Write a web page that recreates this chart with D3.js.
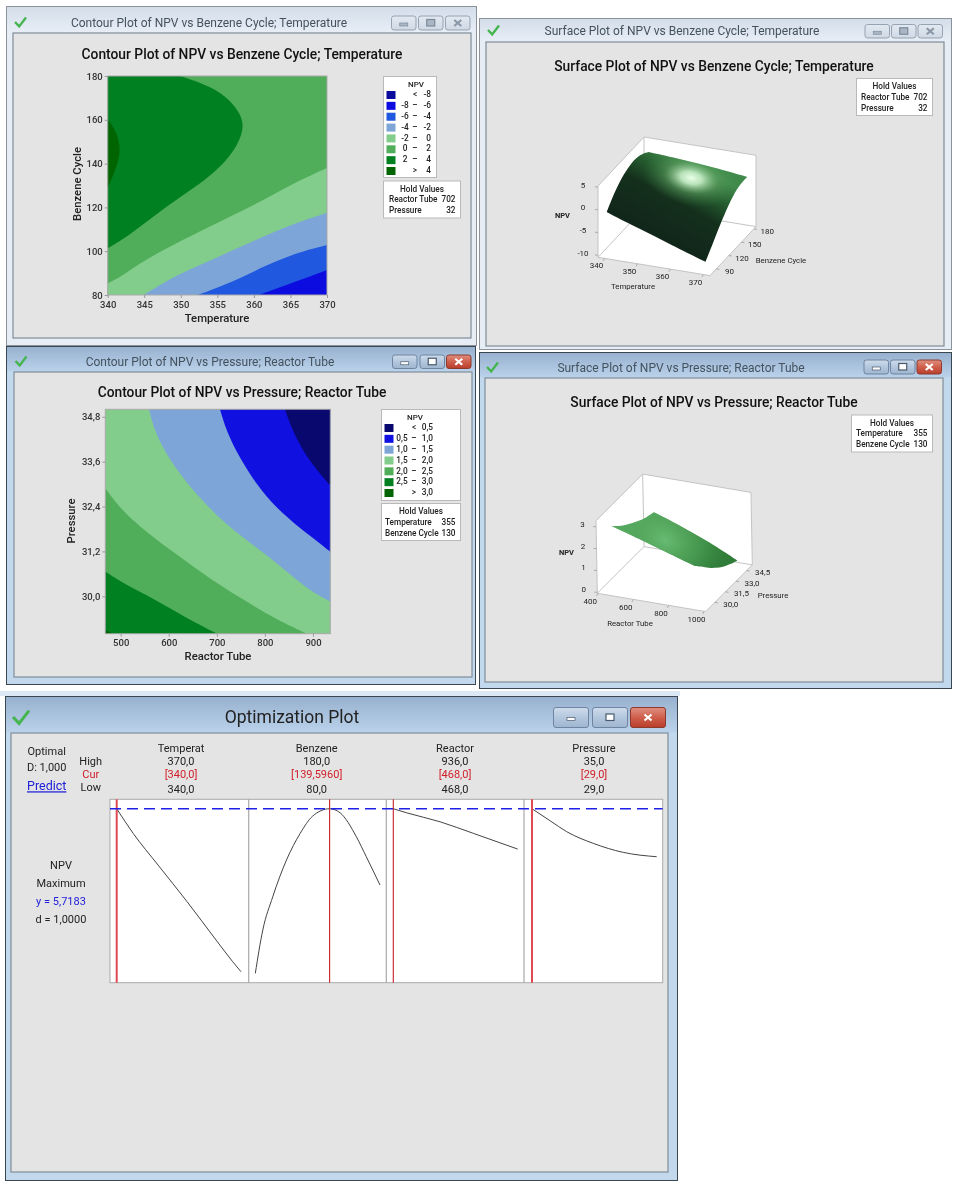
<!DOCTYPE html>
<html>
<head>
<meta charset="utf-8">
<title>NPV plots</title>
<script src="https://cdn.jsdelivr.net/npm/d3@7"></script>
<style>
  body { margin: 0; background: #fff; }
  svg { display: block; filter: blur(0.3px); }
  text { font-family: Roboto, "Noto Sans", sans-serif; fill: #222; }
</style>
</head>
<body>
<svg id="chart" width="956" height="1183"></svg>
<script>
// contour 1: band limits as [Temperature, Benzene Cycle]
let temperatureTicks = [340, 345, 350, 355, 360, 365, 370];
let benzeneTicks = [80, 100, 120, 140, 160, 180];
let limitAbove4 = [[340, 160], [341, 156], [341.9, 147], [341.2, 138], [340, 129]];
let limit2 = [[349.9, 180], [352.6, 177], [355.6, 172.5], [357.5, 166], [358.7, 159], [358.2, 151.5], [356.9, 144], [354.5, 135.5], [351.7, 128.7], [349, 122.6], [346.2, 115.8], [343, 107.4], [340, 101.3]];
let limit0 = [[370, 138], [366.3, 132.5], [361.7, 124], [357.2, 116.5], [352.6, 109], [348, 101.3], [344.4, 94.5], [342.1, 89], [340, 85.3]];
let limitMinus2 = [[370, 117.6], [366.3, 113.5], [361.7, 107.4], [357.2, 100.5], [352.6, 93.7], [349, 88.4], [344.9, 80]];
let limitMinus4 = [[370, 102.8], [366.3, 99.8], [361.7, 93.7], [357.2, 86], [352.3, 80]];
let limitMinus6 = [[370, 91.4], [366.3, 86.8], [363.1, 83], [360.6, 80]];

// contour 2: band limits as [Reactor Tube, Pressure]
let reactorTicks = [500, 600, 700, 800, 900];
let pressureTicks = [30, 31.2, 32.4, 33.6, 34.8];
let limitAbove3 = [[468, 29.1], [484.6, 29]];
let limit25 = [[468, 30.66], [505, 30.35], [554, 30.03], [602.5, 29.68], [651, 29.32], [701, 29]];
let limit20 = [[468, 32.89], [498.5, 32.35], [540, 31.86], [588.6, 31.37], [637, 30.93], [699.6, 30.35], [762, 29.86], [824.4, 29.37], [887, 29]];
let limit15 = [[558.8, 35], [571, 34.4], [595.6, 33.78], [630, 33.15], [671.8, 32.53], [720.4, 31.9], [775.8, 31.37], [838, 30.75], [886.8, 30.2], [936, 29.86]];
let limit10 = [[706.5, 35], [720.4, 34.4], [748, 33.69], [782.8, 32.98], [824.4, 32.35], [873, 31.82], [914.5, 31.42], [936, 31.19]];
let limit05 = [[841.7, 35], [855.5, 34.49], [879.7, 33.87], [907.6, 33.38], [936, 32.96]];

// legends
let legend1Low = ["", "-8", "-6", "-4", "-2", "0", "2", ""];
let legend1High = ["-8", "-6", "-4", "-2", "0", "2", "4", "4"];
let legend2Low = ["", "0,5", "1,0", "1,5", "2,0", "2,5", ""];
let legend2High = ["0,5", "1,0", "1,5", "2,0", "2,5", "3,0", "3,0"];
let legend1Colors = ["#0a0a9c", "#0c0ce0", "#2058e0", "#7da5d8", "#82cc8c", "#50ae5a", "#008020", "#006400"];
let legend2Colors = ["#08086e", "#1010e0", "#7da5d8", "#82cc8c", "#50ae5a", "#008020", "#006400"];

// surface 1: NPV, one row per temperature, one value per benzene cycle
let surface1Temperature = [340, 350, 360, 370];
let surface1Benzene = [80, 100, 120, 140, 160, 180];
let surface1Npv = [
  [-0.8, 1.9, 3.5, 4.3, 4.1, 2.6],
  [-3.3, -0.3, 1.9, 3.1, 3.1, 2.2],
  [-5.8, -2.8, -0.3, 1.3, 2.0, 1.6],
  [-8.2, -5.5, -2.8, -0.5, 0.8, 0.7]
];

// surface 2: NPV, one row per reactor tube, one value per pressure
let surface2Reactor = [468, 624, 780, 936];
let surface2Pressure = [29, 30, 31, 32, 33, 34, 35];
let surface2Npv = [
  [3.04, 2.7, 2.42, 2.2, 1.98, 1.82, 1.72],
  [2.67, 2.36, 2.08, 1.82, 1.6, 1.42, 1.28],
  [2.25, 1.95, 1.65, 1.38, 1.12, 0.92, 0.78],
  [1.85, 1.5, 1.1, 0.78, 0.5, 0.3, 0.15]
];

// optimization plot curves
let optNames = ["Temperat", "Benzene", "Reactor", "Pressure"];
let optHigh = ["370,0", "180,0", "936,0", "35,0"];
let optCur = ["[340,0]", "[139,5960]", "[468,0]", "[29,0]"];
let optLow = ["340,0", "80,0", "468,0", "29,0"];
let optCurValues = [340, 139.596, 468, 29];
let optBestNpv = 5.7183;
let optTemperature = [340, 344, 350, 357, 364, 368, 370];
let optTemperatureNpv = [5.72, 4.07, 1.96, -0.48, -3.04, -4.48, -5.15];
let optBenzene = [80, 86, 94, 105, 116, 126, 139.6, 148, 161, 169, 180];
let optBenzeneNpv = [-5.26, -2.37, -0.15, 2.3, 4.08, 5.23, 5.72, 5.45, 3.86, 2.52, 0.63];
let optReactor = [468, 518, 644, 769, 936];
let optReactorNpv = [5.72, 5.45, 4.85, 4.08, 3.03];
let optPressure = [29, 29.87, 30.67, 31.95, 33.39, 35];
let optPressureNpv = [5.72, 4.92, 4.19, 3.41, 2.81, 2.52];

let svg = d3.select("#chart");
let defs = svg.append("defs");

function addGradient(id, x1, y1, x2, y2, stops) {
  let g = defs.append("linearGradient").attr("id", id)
    .attr("x1", x1).attr("y1", y1).attr("x2", x2).attr("y2", y2);
  stops.forEach(s => g.append("stop").attr("offset", s[0]).attr("stop-color", s[1]));
  return g;
}
addGradient("barOff", 0, 0, 0, 1, [[0, "#d3dde9"], [1, "#e8eef6"]]);
addGradient("barOn", 0, 0, 0, 1, [[0, "#98b1cf"], [1, "#bad2ea"]]);
addGradient("btnOff", 0, 0, 0, 1, [[0, "#e3e9f1"], [1, "#cfd9e5"]]);
addGradient("btnOn", 0, 0, 0, 1, [[0, "#cfdcec"], [0.5, "#b3c7dd"], [1, "#9fb6d0"]]);
addGradient("btnClose", 0, 0, 0, 1, [[0, "#e08f80"], [0.5, "#cf5f4c"], [1, "#b93d2b"]]);

function text(g, x, y, s, size, anchor, weight, color) {
  return g.append("text").attr("x", x).attr("y", y).attr("dominant-baseline", "middle")
    .attr("text-anchor", anchor || "middle").attr("font-size", size)
    .attr("font-weight", weight || 400).style("fill", color || "#222").text(s);
}

// window frame with title bar and three buttons
function drawWindow(w) {
  let g = svg.append("g");
  g.append("rect").attr("x", w.x).attr("y", w.y).attr("width", w.w).attr("height", w.h)
    .attr("fill", w.active ? "#c2d8ec" : "#e6edf5")
    .attr("stroke", w.active ? "#3a4650" : "#8b929a").attr("stroke-width", 1);
  g.append("rect").attr("x", w.x + 0.5).attr("y", w.y + 0.5).attr("width", w.w - 1).attr("height", w.cy - w.y - 1)
    .attr("fill", w.active ? "url(#barOn)" : "url(#barOff)");
  g.append("rect").attr("x", w.cx).attr("y", w.cy).attr("width", w.cw).attr("height", w.ch)
    .attr("fill", "#e4e4e4").attr("stroke", "#7f8c99").attr("stroke-width", 1.2);
  text(g, w.tx, w.ty + 0.8, w.title, w.ts, "middle", 400, w.big ? "#222" : "#44525e");
  g.append("path").attr("d", `M${w.chk[0]},${w.chk[1]}l${w.chk[2] * 0.38},${w.chk[2] * 0.4}l${w.chk[2] * 0.62},${-w.chk[2] * 0.8}`)
    .attr("fill", "none").attr("stroke", "#46b550").attr("stroke-width", w.big ? 3 : 2.4);
  w.btn.forEach((b, i) => {
    let close = i == 2 && w.active;
    g.append("rect").attr("x", b).attr("y", w.by).attr("width", w.bw).attr("height", w.bh).attr("rx", 2.5)
      .attr("fill", close ? "url(#btnClose)" : (w.active ? "url(#btnOn)" : "url(#btnOff)"))
      .attr("stroke", close ? "#8c3a2c" : (w.active ? "#6e84a0" : "#96a3b3"));
    let cx = b + w.bw / 2, cy = w.by + w.bh / 2;
    let ink = close ? "#fff" : (w.active ? "#fff" : "#aab6c4");
    let edge = w.active ? "#4a5a6c" : "#7d8a99";
    if (i == 0) g.append("rect").attr("x", cx - 4).attr("y", cy).attr("width", 8).attr("height", 3).attr("fill", ink).attr("stroke", edge).attr("stroke-width", 0.7);
    if (i == 1) g.append("rect").attr("x", cx - 4).attr("y", cy - 3.5).attr("width", 8).attr("height", 6.5).attr("fill", ink).attr("stroke", edge).attr("stroke-width", 1.2);
    if (i == 2) g.append("path").attr("d", `M${cx - 3.5},${cy - 3}L${cx + 3.5},${cy + 3}M${cx + 3.5},${cy - 3}L${cx - 3.5},${cy + 3}`)
      .attr("stroke", close ? "#fff" : "#8a97a6").attr("stroke-width", 2.2);
  });
}

drawWindow({ x: 6.5, y: 6.5, w: 470, h: 339, cx: 13, cy: 33, cw: 458, ch: 305, active: false, title: "Contour Plot of NPV vs Benzene Cycle; Temperature", tx: 209, ty: 23, ts: 12, chk: [15, 22, 11], btn: [391.5, 418.5, 445.5], by: 16, bw: 24.5, bh: 14 });
drawWindow({ x: 479.5, y: 18.5, w: 472, h: 331, cx: 486, cy: 42, cw: 458, ch: 304, active: false, title: "Surface Plot of NPV vs Benzene Cycle; Temperature", tx: 682, ty: 31, ts: 12, chk: [488, 30, 11], btn: [865, 891.5, 918], by: 24.5, bw: 24.5, bh: 13.5 });
drawWindow({ x: 6.5, y: 346.5, w: 469, h: 338, cx: 14, cy: 372, cw: 458, ch: 305, active: true, title: "Contour Plot of NPV vs Pressure; Reactor Tube", tx: 210, ty: 362, ts: 12, chk: [15.5, 361, 11], btn: [392.5, 420, 446.5], by: 355, bw: 24.5, bh: 13.5 });
drawWindow({ x: 479.5, y: 352.5, w: 472, h: 336, cx: 485, cy: 378, cw: 458, ch: 304, active: true, title: "Surface Plot of NPV vs Pressure; Reactor Tube", tx: 681, ty: 368, ts: 12, chk: [487, 367, 11], btn: [864, 890.5, 917], by: 360, bw: 24.5, bh: 14 });
svg.append("rect").attr("x", 0).attr("y", 691).attr("width", 680).attr("height", 5).attr("fill", "#dce8f3");
drawWindow({ x: 5.5, y: 696.5, w: 672, h: 484, cx: 11, cy: 733, cw: 657, ch: 439, active: true, big: true, title: "Optimization Plot", tx: 292, ty: 718, ts: 17.5, chk: [13, 717, 16], btn: [553.5, 592.5, 630.5], by: 707.5, bw: 35, bh: 20 });

function holdBox(b) {
  let g = svg.append("g");
  g.append("rect").attr("x", b.x).attr("y", b.y).attr("width", b.w).attr("height", b.h)
    .attr("fill", "#fff").attr("stroke", "#b9b9b9").attr("stroke-width", 1);
  text(g, b.x + b.w / 2, b.y + 8.5, "Hold Values", b.size, "middle", 500);
  b.rows.forEach((r, i) => {
    text(g, b.x + b.pad, b.y + 19 + i * 11, r[0], b.size, "start", 500);
    text(g, b.x + b.w - 5, b.y + 19 + i * 11, r[1], b.size, "end", 500);
  });
}

function legendBox(b) {
  let g = svg.append("g");
  g.append("rect").attr("x", b.x).attr("y", b.y).attr("width", b.w).attr("height", b.h)
    .attr("fill", "#fff").attr("stroke", "#b9b9b9").attr("stroke-width", 1);
  text(g, b.nx, b.y + 8, "NPV", 8, "middle", 500);
  let rows = d3.scaleLinear().domain([0, b.colors.length - 1]).range([b.y0, b.y1]);
  b.colors.forEach((c, i) => {
    let y = rows(i);
    g.append("rect").attr("x", b.x + 3).attr("y", y - 4).attr("width", 9).attr("height", 8).attr("fill", c);
    text(g, b.xr, y, b.high[i], 8.3, "end", 500);
    if (b.low[i] != "") {
      text(g, b.xl, y, b.low[i], 8.3, "middle", 500);
      text(g, b.xd, y, "–", 8.3, "middle", 500);
    } else {
      text(g, b.xd, y, i == 0 ? "<" : ">", 8.3, "middle", 500);
    }
  });
}

// filled contour panel
function contourPanel(p) {
  let g = svg.append("g");
  let x = d3.scaleLinear().domain(p.xDomain).range([p.left, p.right]);
  let y = d3.scaleLinear().domain(p.yDomain).range([p.bottom, p.top]);
  let curve = d3.line().x(d => x(d[0])).y(d => y(d[1])).curve(d3.curveBasis);
  g.append("rect").attr("x", p.left).attr("y", p.top).attr("width", p.right - p.left).attr("height", p.bottom - p.top).attr("fill", p.base);
  p.bands.forEach(b => {
    let corners = b.corners.map(c => `L${x(c[0])},${y(c[1])}`).join("");
    g.append("path").attr("d", curve(b.limit) + corners + "Z").attr("fill", b.color);
  });
  g.append("rect").attr("x", p.left).attr("y", p.top).attr("width", p.right - p.left).attr("height", p.bottom - p.top)
    .attr("fill", "none").attr("stroke", "#a9a9a9").attr("stroke-width", 1);
  let xAxis = g.append("g").attr("transform", `translate(0,${p.bottom})`)
    .call(d3.axisBottom(x).tickValues(p.xTicks).tickSize(3).tickPadding(3).tickFormat(p.fmtX));
  let yAxis = g.append("g").attr("transform", `translate(${p.left},0)`)
    .call(d3.axisLeft(y).tickValues(p.yTicks).tickSize(3).tickPadding(2).tickFormat(p.fmtY));
  [xAxis, yAxis].forEach(a => {
    a.select(".domain").remove();
    a.selectAll("line").attr("stroke", "#999");
    a.selectAll("text").attr("font-size", 9.5).attr("font-weight", 500).style("font-family", "Roboto").style("fill", "#333");
  });
  text(g, p.titleX, p.titleY + 1, p.title, 13.8, "middle", 500, "#111");
  text(g, p.xlabelX, p.xlabelY, p.xlabel, 11.3, "middle", 500);
  text(g, 0, 0, p.ylabel, 11.3, "middle", 500)
    .attr("transform", `translate(${p.ylabelX},${p.ylabelY}) rotate(-90)`);
}

let comma1 = v => d3.format(".1f")(v).replace(".", ",");

contourPanel({
  xDomain: [340, 370], yDomain: [80, 180], left: 107.7, right: 327, top: 76, bottom: 295,
  base: "#50ae5a", xTicks: temperatureTicks, yTicks: benzeneTicks, fmtX: d3.format("d"), fmtY: d3.format("d"),
  title: "Contour Plot of NPV vs Benzene Cycle; Temperature", titleX: 242, titleY: 54,
  xlabel: "Temperature", xlabelX: 217, xlabelY: 319, ylabel: "Benzene Cycle", ylabelX: 78, ylabelY: 184,
  bands: [
    { limit: limit2, corners: [[340, 180]], color: "#008020" },
    { limit: limitAbove4, corners: [], color: "#006400" },
    { limit: limit0, corners: [[340, 80], [370, 80]], color: "#82cc8c" },
    { limit: limitMinus2, corners: [[370, 80]], color: "#7da5d8" },
    { limit: limitMinus4, corners: [[370, 80]], color: "#2058e0" },
    { limit: limitMinus6, corners: [[370, 80]], color: "#0c0ce0" }
  ]
});
legendBox({ x: 383.5, y: 76.5, w: 53, h: 101, nx: 416, y0: 95, y1: 171, xl: 405, xd: 415, xr: 431, colors: legend1Colors, low: legend1Low, high: legend1High });
holdBox({ x: 383.5, y: 181, w: 77, h: 37, size: 8.2, pad: 5.5, rows: [["Reactor Tube", "702"], ["Pressure", "32"]] });

contourPanel({
  xDomain: [468, 936], yDomain: [29, 35], left: 105.3, right: 330.3, top: 409.3, bottom: 633.7,
  base: "#82cc8c", xTicks: reactorTicks, yTicks: pressureTicks, fmtX: d3.format("d"), fmtY: comma1,
  title: "Contour Plot of NPV vs Pressure; Reactor Tube", titleX: 242, titleY: 392,
  xlabel: "Reactor Tube", xlabelX: 218, xlabelY: 657, ylabel: "Pressure", ylabelX: 72, ylabelY: 521,
  bands: [
    { limit: limit20, corners: [[468, 29]], color: "#50ae5a" },
    { limit: limit25, corners: [[468, 29]], color: "#008020" },
    { limit: limitAbove3, corners: [[468, 29]], color: "#006400" },
    { limit: limit15, corners: [[936, 35]], color: "#7da5d8" },
    { limit: limit10, corners: [[936, 35]], color: "#1010e0" },
    { limit: limit05, corners: [[936, 35]], color: "#08086e" }
  ]
});
legendBox({ x: 381.5, y: 409.5, w: 79, h: 91, nx: 415, y0: 428, y1: 493, xl: 402, xd: 414, xr: 433, colors: legend2Colors, low: legend2Low, high: legend2High });
holdBox({ x: 381.5, y: 503.5, w: 79, h: 37, size: 8.2, pad: 3.5, rows: [["Temperature", "355"], ["Benzene Cycle", "130"]] });

// 3D box: a point maps through three scales onto the three box edges
function surfacePanel(p) {
  let g = svg.append("g");
  let u = d3.scaleLinear().domain(p.xDomain).range([0, 1]);
  let v = d3.scaleLinear().domain(p.yDomain).range([0, 1]);
  let w = d3.scaleLinear().domain(p.zDomain).range([0, 1]);
  let project = (a, b, c) => [
    p.origin[0] + u(a) * p.ex[0] + v(b) * p.ey[0] + w(c) * p.ez[0],
    p.origin[1] + u(a) * p.ex[1] + v(b) * p.ey[1] + w(c) * p.ez[1]
  ];
  let [x0, x1] = p.xDomain, [y0, y1] = p.yDomain, [z0, z1] = p.zDomain;
  let poly = pts => "M" + pts.map(q => q.join(",")).join("L");
  g.append("path")
    .attr("d", poly([project(x0, y0, z0), project(x1, y0, z0), project(x1, y1, z0), project(x1, y1, z1), project(x0, y1, z1), project(x0, y0, z1)]) + "Z")
    .attr("fill", "#fff");
  let edges = [
    [project(x0, y0, z0), project(x1, y0, z0)], [project(x1, y0, z0), project(x1, y1, z0)],
    [project(x0, y0, z0), project(x0, y1, z0)], [project(x0, y1, z0), project(x1, y1, z0)],
    [project(x0, y0, z0), project(x0, y0, z1)], [project(x0, y1, z0), project(x0, y1, z1)],
    [project(x1, y1, z0), project(x1, y1, z1)], [project(x0, y0, z1), project(x0, y1, z1)],
    [project(x0, y1, z1), project(x1, y1, z1)]
  ];
  edges.forEach(e => g.append("path").attr("d", poly(e)).attr("fill", "none").attr("stroke", "#c4c4c4").attr("stroke-width", 1));

  // outline of the surface from the outer rows and columns of the grid
  let curve = d3.line().curve(d3.curveBasis);
  let last = p.rows.length - 1, lastCol = p.cols.length - 1;
  let a1 = p.cols.map((c, j) => project(p.rows[0], c, p.npv[0][j]));
  let a2 = p.rows.map((r, i) => project(r, p.cols[lastCol], p.npv[i][lastCol]));
  let a3 = p.cols.map((c, j) => project(p.rows[last], c, p.npv[last][j])).reverse();
  let a4 = p.rows.map((r, i) => project(r, p.cols[0], p.npv[i][0])).reverse();
  let outline = [a1, a2, a3, a4].map((a, i) => i == 0 ? curve(a) : curve(a).replace(/^M/, "L")).join("") + "Z";
  let clipId = p.id + "Clip";
  defs.append("clipPath").attr("id", clipId).append("path").attr("d", outline);
  g.append("path").attr("d", outline).attr("fill", `url(#${p.id}Base)`);
  let shine = p.shine;
  g.append("g").attr("clip-path", `url(#${clipId})`).append("ellipse")
    .attr("cx", shine.cx).attr("cy", shine.cy).attr("rx", shine.rx).attr("ry", shine.ry)
    .attr("transform", `rotate(${shine.rot},${shine.cx},${shine.cy})`)
    .attr("fill", `url(#${p.id}Shine)`);

  // axis ticks and labels
  let tick = (q, dx, dy) => g.append("line").attr("x1", q[0]).attr("y1", q[1]).attr("x2", q[0] + dx).attr("y2", q[1] + dy).attr("stroke", "#aaa");
  p.xTicks.forEach((t, i) => {
    let q = project(t, y0, z0);
    tick(q, -1.5, 2.5);
    text(g, q[0] + p.xLab[0], q[1] + p.xLab[1], p.xLabels[i], 8, "middle", 400);
  });
  p.yTicks.forEach((t, i) => {
    let q = project(x1, t, z0);
    tick(q, 3, 0.5);
    text(g, q[0] + p.yLab[0], q[1] + p.yLab[1], p.yLabels[i], 8, "middle", 400);
  });
  p.zTicks.forEach((t, i) => {
    let q = project(x0, y0, t);
    tick(q, -3, 0);
    text(g, q[0] + p.zLab[0], q[1] + p.zLab[1], p.zLabels[i], 8, "middle", 400);
  });
  text(g, p.titleX, p.titleY + 1, p.title, 13.8, "middle", 500, "#111");
  text(g, p.xname[0], p.xname[1], p.xname[2], 7.8, "middle", 400);
  text(g, p.yname[0], p.yname[1], p.yname[2], 7.8, "middle", 400);
  text(g, p.zname[0], p.zname[1], "NPV", 7.5, "middle", 700);
}

function surfaceGradients(id, base, baseEnds, shineStops) {
  let b = addGradient(id + "Base", baseEnds[0], baseEnds[1], baseEnds[2], baseEnds[3], base);
  b.attr("gradientUnits", "userSpaceOnUse");
  let r = defs.append("radialGradient").attr("id", id + "Shine");
  shineStops.forEach(s => r.append("stop").attr("offset", s[0]).attr("stop-color", s[1]).attr("stop-opacity", s[2]));
}

surfaceGradients("s1",
  [[0, "#11261a"], [0.5, "#14301c"], [0.75, "#245a2e"], [1, "#3f8a4a"]],
  [656, 237, 695, 165],
  [[0, "#eaffea", 1], [0.22, "#c8f0c8", 0.9], [0.55, "#6fb070", 0.4], [1, "#3f8a4a", 0]]);
surfacePanel({
  id: "s1", origin: [598, 257.3], ex: [112, 18.3], ey: [46, -49], ez: [0, -71.3],
  xDomain: [338, 372], yDomain: [75, 185], zDomain: [-10.5, 5.2],
  rows: surface1Temperature, cols: surface1Benzene, npv: surface1Npv,
  shine: { cx: 691.3, cy: 178, rx: 50, ry: 28, rot: 12 },
  xTicks: [340, 350, 360, 370], xLabels: ["340", "350", "360", "370"], xLab: [-8, 8],
  yTicks: [90, 120, 150, 180], yLabels: ["90", "120", "150", "180"], yLab: [13.3, 3],
  zTicks: [-10, -5, 0, 5], zLabels: ["-10", "-5", "0", "5"], zLab: [-15, -1.5],
  title: "Surface Plot of NPV vs Benzene Cycle; Temperature", titleX: 714, titleY: 66,
  xname: [633, 287, "Temperature"], yname: [781, 261, "Benzene Cycle"], zname: [562.5, 216]
});
holdBox({ x: 856.5, y: 78.5, w: 76, h: 37, size: 8.2, pad: 4.5, rows: [["Reactor Tube", "702"], ["Pressure", "32"]] });

surfaceGradients("s2",
  [[0, "#57ab60"], [1, "#2f7c38"]],
  [650, 510, 720, 570],
  [[0, "#68bb72", 1], [0.5, "#55a85e", 0.6], [1, "#4a9e54", 0]]);
surfacePanel({
  id: "s2", origin: [597.3, 593.3], ex: [108.3, 18.3], ey: [46.7, -46.7], ez: [-1.3, -72.5],
  xDomain: [396, 1008], yDomain: [28.7, 35.3], zDomain: [-0.05, 3.27],
  rows: surface2Reactor, cols: surface2Pressure, npv: surface2Npv,
  shine: { cx: 665, cy: 540, rx: 55, ry: 40, rot: 25 },
  xTicks: [400, 600, 800, 1000], xLabels: ["400", "600", "800", "1000"], xLab: [-7.7, 8.5],
  yTicks: [30, 31.5, 33, 34.5], yLabels: ["30,0", "31,5", "33,0", "34,5"], yLab: [16, 2.5],
  zTicks: [0, 1, 2, 3], zLabels: ["0", "1", "2", "3"], zLab: [-13.5, -2],
  title: "Surface Plot of NPV vs Pressure; Reactor Tube", titleX: 714, titleY: 402,
  xname: [630, 623.5, "Reactor Tube"], yname: [773, 596, "Pressure"], zname: [566.5, 553.5]
});
holdBox({ x: 851.5, y: 415, w: 81, h: 37, size: 8.2, pad: 4.5, rows: [["Temperature", "355"], ["Benzene Cycle", "130"]] });

// optimization plot
let og = svg.append("g");
let optRight = [248.7, 386.3, 524, 662.7];
let optCenter = [181, 316.7, 455, 594];
let optStart = [116.7, 255.3, 393.3, 532];
let optEnd = [241, 380, 517.7, 656.7];
let optDomains = [[340, 370], [80, 180], [468, 936], [29, 35]];
let optX = optDomains.map((d, i) => d3.scaleLinear().domain(d).range([optStart[i], optEnd[i]]));
let optY = d3.scaleLinear().domain([6.35, -5.88]).range([799.3, 982.7]);
let optCurves = [
  [optTemperature, optTemperatureNpv], [optBenzene, optBenzeneNpv],
  [optReactor, optReactorNpv], [optPressure, optPressureNpv]
];
og.append("rect").attr("x", 110).attr("y", 799.3).attr("width", 552.7).attr("height", 183.4)
  .attr("fill", "#fff").attr("stroke", "#a9a9a9").attr("stroke-width", 1);
optRight.slice(0, 3).forEach(x => og.append("line").attr("x1", x).attr("x2", x).attr("y1", 799.3).attr("y2", 982.7).attr("stroke", "#a9a9a9").attr("stroke-width", 1.2));
optCurves.forEach((c, i) => {
  let line = d3.line().x(d => optX[i](d[0])).y(d => optY(d[1])).curve(d3.curveMonotoneX);
  og.append("path").attr("d", line(c[0].map((v, j) => [v, c[1][j]]))).attr("fill", "none").attr("stroke", "#444").attr("stroke-width", 1);
  let xc = optX[i](optCurValues[i]);
  let wide = i == 0 || i == 3;
  og.append("line").attr("x1", xc).attr("x2", xc).attr("y1", 799.3).attr("y2", 982.7)
    .attr("stroke", wide ? "#df4a52" : "#c81e28").attr("stroke-width", wide ? 2 : 1.1);
  text(og, optCenter[i], 749, optNames[i], 11);
  text(og, optCenter[i], 762.5, optHigh[i], 11);
  text(og, optCenter[i], 775.5, optCur[i], 11, "middle", 400, "#d0202a");
  text(og, optCenter[i], 790, optLow[i], 11);
});
og.append("line").attr("x1", 110).attr("x2", 662.7).attr("y1", optY(optBestNpv)).attr("y2", optY(optBestNpv))
  .attr("stroke", "#2020e8").attr("stroke-width", 1.5).attr("stroke-dasharray", "11,6");
text(og, 46.7, 752, "Optimal", 11);
text(og, 46.7, 768, "D: 1,000", 11);
text(og, 46.7, 787, "Predict", 12.5, "middle", 400, "#2020d8").attr("text-decoration", "underline");
text(og, 90.7, 762, "High", 11);
text(og, 90.7, 775, "Cur", 11, "middle", 400, "#d0202a");
text(og, 90.7, 788, "Low", 11);
text(og, 61, 866, "NPV", 11);
text(og, 61, 884, "Maximum", 11);
text(og, 61, 902, "y = 5,7183", 11, "middle", 400, "#2020d8");
text(og, 61, 920, "d = 1,0000", 11);
</script>
</body>
</html>
